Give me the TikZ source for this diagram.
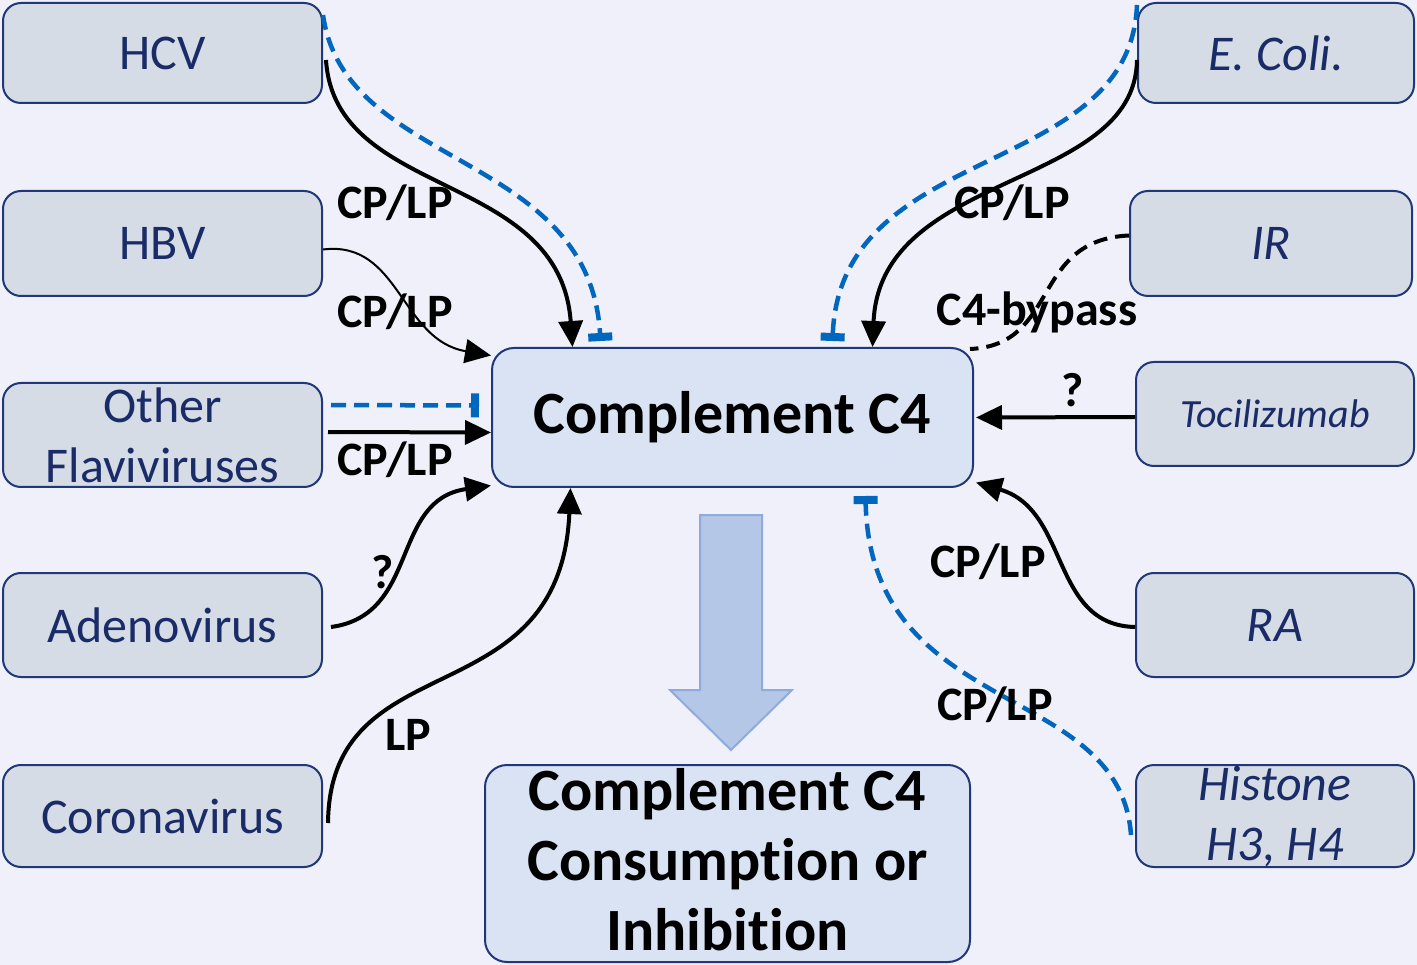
\documentclass[tikz,border=0pt]{standalone}
\usepackage{fontspec}
\setmainfont{Carlito}[Ligatures=NoCommon]
\usetikzlibrary{arrows.meta,calc}
\definecolor{bgc}{RGB}{240,240,250}
\definecolor{boxfill}{RGB}{214,220,229}
\definecolor{boxdraw}{RGB}{32,56,120}
\definecolor{cfill}{RGB}{218,227,243}
\definecolor{txtc}{RGB}{26,44,104}
\definecolor{inhib}{RGB}{0,102,190}
\definecolor{bigfill}{RGB}{180,199,231}
\definecolor{bigdraw}{RGB}{143,170,220}
\begin{document}
\begin{tikzpicture}[x=1pt,y=-1pt,
  srcbox/.style={draw=boxdraw,line width=2pt,fill=boxfill,rounded corners=18pt,
    minimum width=319pt,inner sep=0pt,align=center,text=txtc,
    font=\fontsize{50}{60}\selectfont},
  rsrc/.style={srcbox,minimum width=278pt,font=\fontsize{50}{60}\selectfont\itshape},
  cbox/.style={draw=boxdraw,line width=2pt,fill=cfill,rounded corners=22pt,inner sep=0pt,
    align=center,font=\fontsize{60}{71}\selectfont\bfseries},
  act/.style={line width=4pt,-{Triangle[length=26pt,width=24pt]}},
  thinact/.style={line width=2pt,-{Triangle[length=26pt,width=24pt]}},
  inh/.style={line width=4.5pt,draw=inhib,dash pattern=on 15pt off 8pt,-{Bar[width=24pt,line width=8pt]}},
  lab/.style={font=\fontsize{48}{56}\selectfont\bfseries,inner sep=0pt}]
\useasboundingbox[fill=bgc] (0,0) rectangle (1417,965);
% left sources
\node[srcbox,minimum height=100pt] (hcv) at (162.5,53) {HCV};
\node[srcbox,minimum height=105pt] (hbv) at (162.5,243.5) {HBV};
\node[srcbox,minimum height=104pt] (fla) at (162.5,435) {Other\\Flaviviruses};
\node[srcbox,minimum height=104pt] (ade) at (162.5,625) {Adenovirus};
\node[srcbox,minimum height=102pt] (cor) at (162.5,816) {Coronavirus};
% right sources
\node[rsrc,minimum width=276pt,minimum height=100pt] (eco) at (1276,53) {E. Coli.};
\node[rsrc,minimum width=282pt,minimum height=105pt] (ir) at (1271,243.5) {IR};
\node[rsrc,minimum height=104pt,font=\fontsize{40}{48}\selectfont\itshape] (toc) at (1275,414) {Tocilizumab};
\node[rsrc,minimum height=104pt] (ra) at (1275,625) {RA};
\node[rsrc,minimum height=102pt] (his) at (1275,816) {Histone\\H3, H4};
% central boxes
\node[cbox,minimum width=481pt,minimum height=139pt] (c4) at (732.5,417.5) {Complement C4};
\node[cbox,minimum width=485pt,minimum height=197pt] (res) at (727.5,863.5) {};
\node[font=\fontsize{60}{70}\selectfont\bfseries,align=center,inner sep=0pt] (restxt) at ([yshift=4pt]res.center) {Complement C4\\Consumption or\\Inhibition};
% big arrow
\draw[draw=bigdraw,line width=2pt,fill=bigfill] (700,515) -- (762,515) -- (762,690) -- (792,690) -- (731,750) -- (670,690) -- (700,690) -- cycle;
% HCV
\draw[inh] ([yshift=38pt]hcv.east) .. controls (345,170) and (590,150) .. ([xshift=-132pt,yshift=6pt]c4.north);
\draw[act] ([xshift=3pt,yshift=-7pt]hcv.east) .. controls (335,200) and (560,170) .. ([xshift=-160pt]c4.north);
\node[lab] (l1) at (395,203) {CP/LP};
% HBV
\draw[thinact] ([yshift=-6pt]hbv.east) .. controls (400,240) and (400,340) .. ([yshift=62pt]c4.west);
\node[lab] (l2) at (395,312) {CP/LP};
% Flaviviruses
\draw[inh] ([xshift=8pt,yshift=30pt]fla.east) -- ([xshift=-12pt,yshift=12pt]c4.west);
\draw[act] ([xshift=5pt,yshift=3pt]fla.east) -- ([yshift=-15pt]c4.west);
\node[lab] (l3) at (395,460) {CP/LP};
% Adenovirus
\draw[act] ([xshift=8pt,yshift=-2pt]ade.east) .. controls (420,615) and (390,500) .. ([yshift=-68pt]c4.west);
\node[lab] (l4) at (383,572) {?};
% Coronavirus
\draw[act] ([xshift=5pt,yshift=-7pt]cor.east) .. controls (330,640) and (560,720) .. ([xshift=-162pt]c4.south);
\node[lab] (l5) at (408,735) {LP};
% E. Coli
\draw[inh] ([yshift=48pt]eco.west) .. controls (1130,180) and (840,140) .. ([xshift=100pt,yshift=6pt]c4.north);
\draw[act] ([yshift=-7pt]eco.west) .. controls (1135,190) and (880,170) .. ([xshift=140pt]c4.north);
\node[lab] (l6) at (1012,203) {CP/LP};
% IR
\draw[line width=4pt,dash pattern=on 14pt off 8pt] ([yshift=8pt]ir.west) .. controls (1030,240) and (1060,345) .. ([xshift=-4pt,yshift=-2pt]c4.north east);
\node[lab] (l7) at (1037,312) {C4-bypass};
% Tocilizumab
\draw[act] ([yshift=-3pt]toc.west) -- ([xshift=2pt]c4.east);
\node[lab] (l8) at (1073,390) {?};
% RA
\draw[act] ([yshift=-2pt]ra.west) .. controls (1050,625) and (1070,510) .. ([xshift=2pt,yshift=-65pt]c4.east);
\node[lab] (l9) at (988,562) {CP/LP};
% Histone
\draw[inh] ([xshift=-4pt,yshift=-19pt]his.west) .. controls (1120,680) and (870,720) .. ([xshift=133pt,yshift=-8pt]c4.south);
\node[lab] (l10) at (995,705) {CP/LP};
\end{tikzpicture}
\end{document}
